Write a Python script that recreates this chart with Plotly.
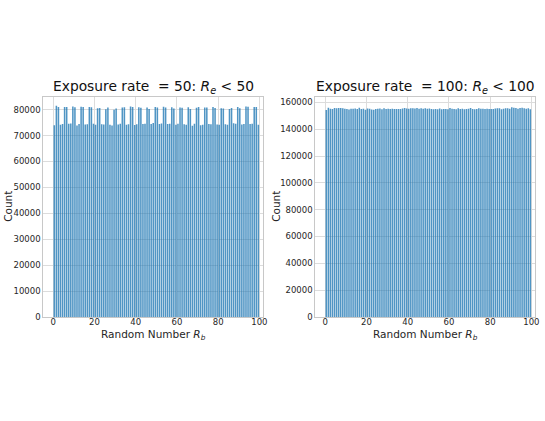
import plotly.graph_objects as go
from plotly.subplots import make_subplots

# random numbers R_b, 0..99
r_b = list(range(100))

# counts for exposure rate 50
counts_50 = [
    74000, 81500, 81000, 74200, 74500, 81000, 81000, 74600, 74700, 81200,
    80900, 73900, 74500, 81100, 81000, 74300, 74400, 81000, 80900, 74600,
    74200, 80500, 80600, 74400, 74300, 80200, 80800, 74200, 73900, 80000,
    80400, 74300, 74600, 80800, 80900, 74200, 74400, 81200, 81000, 74100,
    74400, 80900, 80700, 74500, 74600, 80800, 80300, 74500, 74900, 81000,
    80800, 74500, 74700, 81100, 80800, 74500, 74600, 80900, 80400, 74200,
    74600, 80800, 80700, 74400, 74200, 80900, 80300, 73800, 74600, 80700,
    81000, 74000, 74200, 80800, 80800, 74500, 74400, 81000, 80600, 74300,
    74200, 80500, 80400, 74400, 74200, 80300, 80600, 74800, 74600, 81000,
    80500, 74300, 74500, 81200, 81100, 74500, 74600, 81000, 81000, 74200,
]

# counts for exposure rate 100
counts_100 = [
    154300, 155900, 155200, 155100, 155700, 155600, 155800, 155700, 155600, 155200,
    155000, 154700, 155300, 155200, 155400, 155100, 156000, 155000, 155300, 154500,
    155400, 155200, 154600, 154400, 155000, 155200, 155400, 154800, 155600, 155000,
    155300, 155100, 155200, 155000, 155100, 155100, 155100, 155400, 155800, 155400,
    155300, 155500, 155600, 155400, 155700, 155200, 155600, 155300, 155500, 155200,
    155400, 155100, 154900, 155100, 154900, 155400, 154900, 155100, 155000, 154800,
    155800, 155200, 155000, 154800, 155600, 155000, 155200, 154900, 155000, 155200,
    155800, 155100, 154900, 155000, 155500, 155300, 155200, 155100, 155200, 155000,
    155100, 155000, 155400, 155600, 155500, 154800, 155300, 155600, 155500, 155200,
    156300, 155900, 155800, 155200, 155700, 155900, 155500, 155300, 155600, 154900,
]

titles = [
    "Exposure rate  = 50: <i>R<sub>e</sub></i> &lt; 50",
    "Exposure rate  = 100: <i>R<sub>e</sub></i> &lt; 100",
]
x_title = "Random Number <i>R<sub>b</sub></i>"
y_title = "Count"

W, H = 545, 421
left_dom = [43.3 / W, 263.3 / W]
right_dom = [315.3 / W, 535.3 / W]
y_dom = [1 - 317 / H, 1 - 96.7 / H]

fig = make_subplots(rows=1, cols=2)

for col, counts in [(1, counts_50), (2, counts_100)]:
    fig.add_trace(go.Bar(x=r_b, y=counts, width=0.75, offset=0.12,
                         marker=dict(color="rgba(31,119,180,0.78)", line_width=0),
                         showlegend=False),
                  row=1, col=col)

font = "DejaVu Sans, Arial, sans-serif"
axis_style = dict(showgrid=True, gridcolor="#dcdcdc", gridwidth=1,
                  showline=True, linecolor="#c8c8c8", linewidth=1, mirror=True,
                  zeroline=False, ticks="", automargin=False, tickformat="d",
                  tickfont=dict(size=8.5, color="#262626"))

fig.update_xaxes(**axis_style, range=[-4.85, 101.9], tickvals=[0, 20, 40, 60, 80, 100],
                 ticklabelstandoff=-3)
fig.update_yaxes(**axis_style)
fig.update_xaxes(domain=left_dom, row=1, col=1)
fig.update_xaxes(domain=right_dom, row=1, col=2)
fig.update_yaxes(domain=y_dom)
fig.update_yaxes(range=[0, 85000], dtick=10000, row=1, col=1)
fig.update_yaxes(range=[0, 164200], dtick=20000, row=1, col=2)

for dom, t, ylab_x in zip([left_dom, right_dom], titles, [8, 276]):
    mid = sum(dom) / 2
    fig.add_annotation(text=t, x=mid, y=1 - 86.7 / H, xref="paper", yref="paper",
                       xanchor="center", yanchor="middle", showarrow=False,
                       font=dict(size=13.8, color="#111111"))
    fig.add_annotation(text=x_title, x=mid, y=1 - 334.5 / H, xref="paper", yref="paper",
                       xanchor="center", yanchor="middle", showarrow=False,
                       font=dict(size=10.5, color="#262626"))
    fig.add_annotation(text=y_title, x=ylab_x / W, y=sum(y_dom) / 2, xref="paper",
                       yref="paper", xanchor="center", yanchor="middle", textangle=-90,
                       showarrow=False, font=dict(size=10.5, color="#262626"))

fig.update_layout(width=W, height=H, margin=dict(l=0, r=0, t=0, b=0),
                  plot_bgcolor="white", paper_bgcolor="white", bargap=0.1,
                  font=dict(family=font))

# drop the page's default body margin so the figure fills the window
fig.write_html("out.html", config={"displayModeBar": False},
               post_script="document.body.style.margin='0';")
